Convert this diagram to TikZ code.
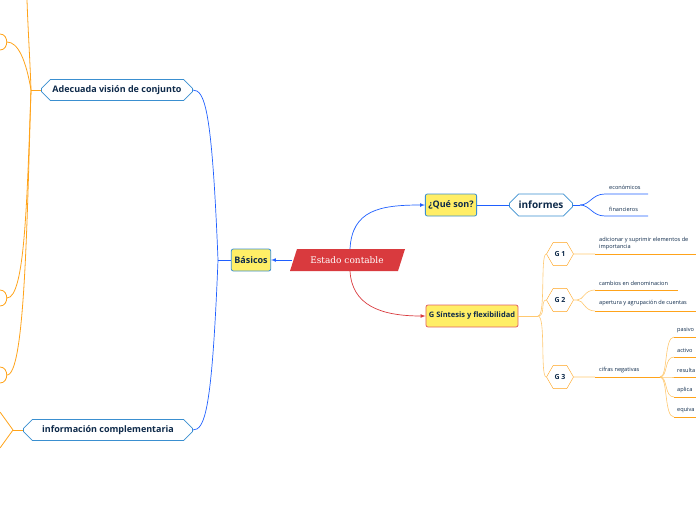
\documentclass[tikz,border=0pt]{standalone}
\usepackage{fontspec}
\setmainfont{Open Sans}
\newfontfamily\serifx{DejaVu Serif}
\usetikzlibrary{shapes.geometric,shapes.misc}
\definecolor{bl}{HTML}{1F5FFF}
\definecolor{lb}{HTML}{3A8FD0}
\definecolor{yl}{HTML}{FFEE66}
\definecolor{og}{HTML}{FFA31A}
\definecolor{lo}{HTML}{FFC870}
\definecolor{rd}{HTML}{D93A3E}
\definecolor{tx}{HTML}{0E2A4A}
\begin{document}
\begin{tikzpicture}[x=1pt,y=-1pt,
 ybox/.style={draw=lb,fill=yl,rounded corners=2pt,line width=0.8pt,font=\fontsize{9}{10}\selectfont\bfseries,text=tx,minimum height=22pt,inner sep=3pt},
 lhex/.style={draw=lb,fill=white,chamfered rectangle,chamfered rectangle xsep=6pt,chamfered rectangle ysep=3pt,line width=0.7pt,font=\fontsize{9}{10}\selectfont\bfseries,text=tx,minimum height=20pt,inner sep=3pt},
 ghex/.style={draw=og,fill=white,regular polygon,regular polygon sides=6,minimum size=27pt,font=\fontsize{7}{8}\selectfont\bfseries,text=tx,inner sep=0pt},
 small/.style={font=\fontsize{5.6}{6.5}\selectfont,text=tx,anchor=south west,inner sep=1pt,align=left},
 bline/.style={draw=bl,line width=0.7pt},
 oline/.style={draw=og,line width=0.8pt},
 thin/.style={draw=lo,line width=0.6pt}]
\useasboundingbox (0,0) rectangle (696,520);
\fill[rd] (297,249) -- (405,249) -- (398,271) -- (290,271) -- cycle;
\node[text=white,font=\serifx\fontsize{9}{10}\selectfont,inner sep=1pt,minimum width=100pt,minimum height=22pt] (ec) at (347,260) {Estado contable};
\node[ybox] (bas) at (251,260) {Básicos};
\node[ybox] (que) at (451,205) {¿Qué son?};
\node[ybox,draw=rd!80,font=\fontsize{7.5}{8}\selectfont\bfseries] (gs) at (472,316) {G Síntesis y flexibilidad};
\node[lhex,minimum width=58pt,minimum height=22pt,font=\fontsize{10}{11}\selectfont\bfseries] (inf) at (541,205) {informes};
\node[lhex,minimum width=151pt] (ade) at (117,90) {Adecuada visión de conjunto};
\node[lhex,minimum width=169pt] (ic) at (108,430) {información complementaria};
\node[ghex] (g1) at (560,254) {G 1};
\node[ghex] (g2) at (560,300) {G 2};
\node[ghex] (g3) at (560,377) {G 3};
% blue connectors
\draw[bline,-latex] (292,260) -- (bas.east);
\draw[bline] (bas.west) -- (218,260);
\draw[bline] (218,260) .. controls (212,110) and (205,90) .. (ade.east);
\draw[bline] (218,260) .. controls (212,410) and (205,430) .. (ic.east);
\draw[bline,-latex] (350,249) .. controls (352,210) and (380,205) .. (que.west);
\draw[draw=rd,line width=0.7pt,-latex] (350,271) .. controls (352,305) and (380,316) .. (gs.west);
\draw[bline] (que.east) -- (inf.west);
\coordinate (ie) at (580,205);
\draw[bline] (inf.east) -- (ie);
\coordinate (e1) at (648,194); \coordinate (e2) at (648,216);
\draw[bline] (ie) .. controls (590,205) and (592,194) .. (605,194) -- (e1);
\draw[bline] (ie) .. controls (590,205) and (592,216) .. (605,216) -- (e2);
\node[small] at (608,191) {económicos};
\node[small] at (608,213) {financieros};
% G branches
\coordinate (gb) at (538,316);
\draw[thin] (gs.east) -- (gb);
\foreach \g in {g1,g2,g3}{\draw[thin] (gb) .. controls (546,316) and (540,0|-\g.west) .. (\g.west);}
\draw[thin] (g1.east) -- (595,254); \draw[oline] (595,254) -- (696,254);
\node[small] at (598,251) {adicionar y suprimir elementos de\\importancia};
\coordinate (g2b) at (577,300);
\draw[thin] (g2.east) -- (g2b);
\draw[thin] (g2b) .. controls (584,300) and (584,290) .. (595,290); \draw[oline] (595,290) -- (678,290);
\draw[thin] (g2b) .. controls (584,300) and (584,311) .. (595,311); \draw[oline] (595,311) -- (696,311);
\node[small] at (598,287) {cambios en denominacion};
\node[small] at (598,307) {apertura y agrupación de cuentas};
\draw[thin] (g3.east) -- (595,377); \draw[oline] (595,377) -- (660,377);
\node[small] at (598,374) {cifras negativas};
\foreach \y/\t in {337/pasivo,357/activo,377/resulta,397/aplica,417/equiva}{
 \draw[thin] (660,377) .. controls (668,377) and (664,\y) .. (674,\y);
 \draw[oline] (674,\y) -- (696,\y);
 \node[small] at (676,\y-3) {\t};}
% left orange partial branches
\coordinate (ab) at (31,90);
\draw[oline] (ade.west) -- (ab);
\draw[oline] (ab) .. controls (30,60) and (28,30) .. (27,0);
\draw[oline] (ab) .. controls (26,60) and (18,42) .. (7,42);
\draw[oline] (ab) .. controls (27,200) and (25,298) .. (7,298);
\draw[oline] (ab) .. controls (27,220) and (25,375) .. (7,375);
\foreach \y in {42,298,375}{\draw[oline] (0,\y-8) .. controls (9,\y-8) and (9,\y+8) .. (0,\y+8);}
\coordinate (icb) at (13,430);
\draw[oline] (ic.west) -- (icb);
\draw[oline] (icb) -- (0,412); \draw[oline] (icb) -- (0,448);
\end{tikzpicture}
\end{document}
